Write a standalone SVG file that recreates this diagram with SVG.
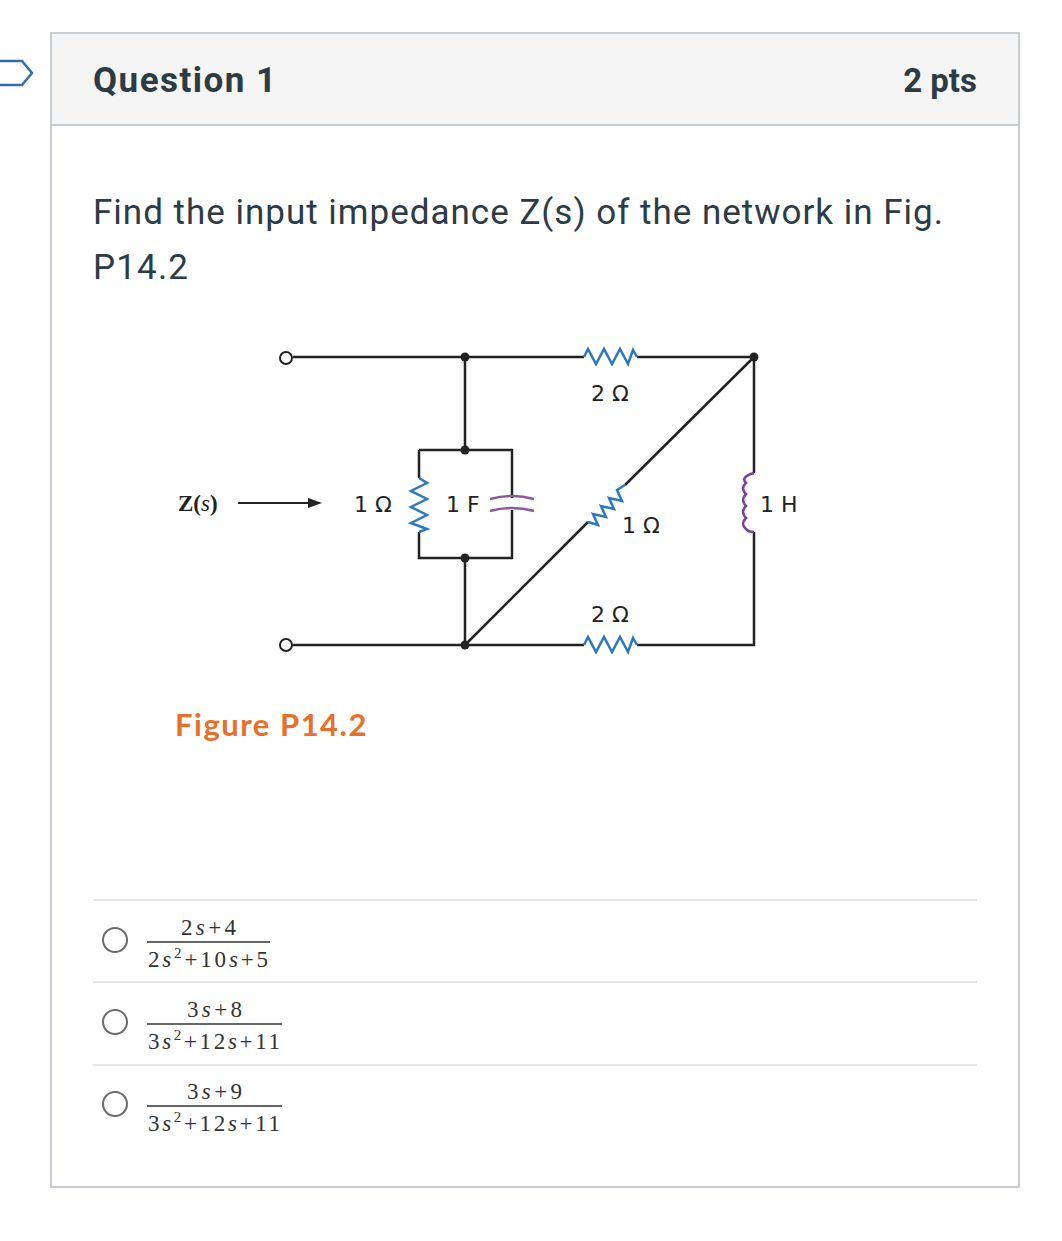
<svg xmlns="http://www.w3.org/2000/svg" width="1062" height="1241" viewBox="0 0 1062 1241">
<style>
.w{stroke:#222;stroke-width:2.5;fill:none}
.r{stroke:#2a78c2;stroke-width:2.5;fill:none}
.lbl{font-family:"DejaVu Sans",sans-serif;font-size:22px;fill:#222}
.m{font-family:"Liberation Serif",serif;font-size:23px;fill:#333}
.sep{stroke:#ddd;stroke-width:1.5}
</style>
<rect width="1062" height="1241" fill="#fff"/>
<path d="M0,61 H22 L32,73 L22,85 H0" fill="none" stroke="#2d6fb0" stroke-width="2.5"/>
<rect x="51" y="33" width="968" height="1154" fill="#fff" stroke="#c7cdd1" stroke-width="2"/>
<rect x="52" y="34" width="966" height="91" fill="#f5f5f5"/>
<line x1="51" y1="125" x2="1019" y2="125" stroke="#c7cdd1" stroke-width="2"/>
<text x="93" y="92" font-family="Roboto,sans-serif" font-weight="bold" font-size="35" fill="#2d3b45" textLength="183">Question 1</text>
<text x="977" y="92" font-family="Roboto,sans-serif" font-weight="bold" font-size="33" fill="#2d3b45" text-anchor="end">2 pts</text>
<text font-family="Roboto,sans-serif" font-size="35" fill="#2d3b45"><tspan x="93" y="224" textLength="850">Find the input impedance Z(s) of the network in Fig.</tspan><tspan x="93" y="279" textLength="95">P14.2</tspan></text>
<g id="circuit">
<g id="connectors">
<path class="w" d="M293,357 H584 M637,357 H754 V473 M754,532 V645 H637 M584,645 H293"/>
<path class="w" d="M465,357 V450 M465,558 V645 M419,450 H512 V498 M512,510 V558 H419 V532 M419,450 V478"/>
<path class="w" d="M465,645 L588,522 M625,485 L754,357"/>
<path d="M238,503 H312" stroke="#222" stroke-width="2"/>
<path d="M322,503 L308,498 L308,508 Z" fill="#222"/>
</g>
<g id="terminals" fill="#fff" stroke="#222" stroke-width="2"><circle cx="286" cy="358" r="6"/><circle cx="286" cy="645" r="6"/></g>
<g id="nodes" fill="#222"><circle cx="465" cy="357" r="4.5"/><circle cx="754" cy="357" r="4.5"/><circle cx="465" cy="450" r="4.5"/><circle cx="465" cy="558" r="4.5"/><circle cx="465" cy="645" r="4.5"/></g>
<g id="R-top"><path class="r" d="M584,357 L588,349 L596,364 L604,349 L612,364 L620,349 L628,364 L633,350 L637,357"/><text class="lbl" x="591" y="401">2 Ω</text></g>
<g id="R-bottom"><path class="r" d="M584,645 L588,637 L596,652 L604,637 L612,652 L620,637 L628,652 L633,638 L637,645"/><text class="lbl" x="591" y="622">2 Ω</text></g>
<g id="R-box"><path class="r" d="M419,478 L427,483 L411,491 L427,499 L411,507 L427,515 L411,523 L427,529 L419,532"/><text class="lbl" x="354" y="512">1 Ω</text></g>
<g id="C"><path d="M490,499 Q512,493 534,499 M490,511 Q512,505 534,511" stroke="#8a5a9a" stroke-width="2.5" fill="none"/><text class="lbl" x="446" y="512">1 F</text></g>
<g id="R-diag"><path class="r" d="M588,522 L598,525 L593,514 L606,517 L601,506 L614,509 L609,498 L622,501 L617,490 L625,485"/><text class="lbl" x="622" y="533">1 Ω</text></g>
<g id="L"><path d="M754,473 Q740,477 746,483 Q740,488 746,494 Q740,500 746,506 Q740,512 746,518 Q740,524 746,529 Q748,532 754,532" stroke="#7a3ea0" stroke-width="2.5" fill="none"/><text class="lbl" x="760" y="512">1 H</text></g>
<text x="178" y="511" font-family="Liberation Serif,serif" font-weight="bold" font-size="23" fill="#222">Z(<tspan font-style="italic" font-weight="normal">s</tspan>)</text>
</g>
<text x="175" y="736" font-family="Lato,sans-serif" font-weight="bold" font-size="31" fill="#e8702a" letter-spacing="1.5">Figure P14.2</text>
<g id="options">
<line class="sep" x1="93" y1="900" x2="977" y2="900"/><line class="sep" x1="93" y1="982" x2="977" y2="982"/><line class="sep" x1="93" y1="1065" x2="977" y2="1065"/>
<g fill="#fff" stroke="#6b6b6b" stroke-width="2"><circle cx="115" cy="940" r="12"/><circle cx="115" cy="1022" r="12"/><circle cx="115" cy="1104" r="12"/></g>
<text class="m" x="181" y="935" textLength="55">2<tspan font-style="italic">s</tspan>+4</text><line x1="147" y1="942" x2="270" y2="942" stroke="#333" stroke-width="1.5"/><text class="m" x="148" y="967" textLength="120">2<tspan font-style="italic">s</tspan><tspan font-size="15" dy="-9">2</tspan><tspan dy="9">+10</tspan><tspan font-style="italic">s</tspan>+5</text>
<text class="m" x="187" y="1017" textLength="55">3<tspan font-style="italic">s</tspan>+8</text><line x1="147" y1="1024" x2="282" y2="1024" stroke="#333" stroke-width="1.5"/><text class="m" x="148" y="1049" textLength="132">3<tspan font-style="italic">s</tspan><tspan font-size="15" dy="-9">2</tspan><tspan dy="9">+12</tspan><tspan font-style="italic">s</tspan>+11</text>
<text class="m" x="187" y="1099" textLength="55">3<tspan font-style="italic">s</tspan>+9</text><line x1="147" y1="1106" x2="282" y2="1106" stroke="#333" stroke-width="1.5"/><text class="m" x="148" y="1131" textLength="132">3<tspan font-style="italic">s</tspan><tspan font-size="15" dy="-9">2</tspan><tspan dy="9">+12</tspan><tspan font-style="italic">s</tspan>+11</text>
</g>
</svg>
